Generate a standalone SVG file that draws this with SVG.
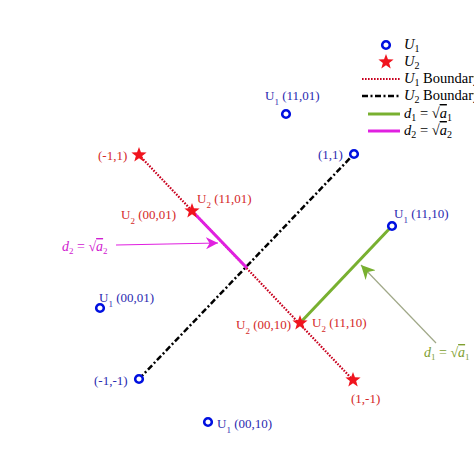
<svg xmlns="http://www.w3.org/2000/svg" width="474" height="474" viewBox="0 0 474 474">
<defs>
<path id="star" d="M0,-8 L1.94,-2.67 L7.61,-2.47 L3.14,1.02 L4.70,6.47 L0,3.3 L-4.70,6.47 L-3.14,1.02 L-7.61,-2.47 L-1.94,-2.67 Z" fill="#f0141e"/>
<circle id="dot" r="3.8" fill="#fff" stroke="#0010e0" stroke-width="2.6"/>
<marker id="amag" viewBox="0 0 10 10" refX="10" refY="5" markerWidth="12" markerHeight="12" markerUnits="userSpaceOnUse" orient="auto"><path d="M0,0 L10,5 L0,10 L3,5 Z" fill="#e020e0"/></marker>
<marker id="agrn" viewBox="0 0 10 10" refX="10" refY="5" markerWidth="14" markerHeight="14" markerUnits="userSpaceOnUse" orient="auto"><path d="M0,0 L10,5 L0,10 L3,5 Z" fill="#78b030"/></marker>
</defs>
<style>
text{font-family:"Liberation Serif","DejaVu Serif",serif;font-size:13px}
.b{fill:#2a2ab0}
.r{fill:#d42828}
.k{fill:#000;font-size:14.5px}
.m{font-size:14px}
.sub{font-size:9px}
.k .sub{font-size:10px}
.it{font-style:italic}
</style>
<rect width="474" height="474" fill="#fff"/>
<g id="connectors">
<line x1="139" y1="155" x2="353" y2="380" stroke="#c8001e" stroke-width="2.2" stroke-dasharray="1.6 1.4"/>
<line x1="139" y1="379" x2="354" y2="154" stroke="#000" stroke-width="2.5" stroke-dasharray="6 2.5 2 2.5"/>
<line x1="192" y1="211" x2="247" y2="268" stroke="#e020e0" stroke-width="3"/>
<line x1="300" y1="323" x2="392" y2="226" stroke="#78b030" stroke-width="3"/>
<line x1="116" y1="245" x2="218" y2="243" stroke="#e020e0" stroke-width="1.2" marker-end="url(#amag)"/>
<line x1="436" y1="343" x2="361" y2="265" stroke="#a0a888" stroke-width="1.2"/>
<line x1="372" y1="276.5" x2="361" y2="265" stroke="#a0a888" stroke-width="0.1" marker-end="url(#agrn)"/>
</g>
<g id="n_m1p1"><use href="#star" x="139" y="155"/><text x="98" y="160" class="r">(-1,1)</text></g>
<g id="n_u2_a"><use href="#star" x="192" y="211"/>
<text x="197" y="203" class="r">U<tspan class="sub" dy="5">2</tspan><tspan dy="-5"> (11,01)</tspan></text>
<text x="121" y="219" class="r">U<tspan class="sub" dy="5">2</tspan><tspan dy="-5"> (00,01)</tspan></text></g>
<g id="n_u2_b"><use href="#star" x="300" y="323"/>
<text x="236" y="329" class="r">U<tspan class="sub" dy="5">2</tspan><tspan dy="-5"> (00,10)</tspan></text>
<text x="312" y="327" class="r">U<tspan class="sub" dy="5">2</tspan><tspan dy="-5"> (11,10)</tspan></text></g>
<g id="n_p1m1"><use href="#star" x="353" y="380"/><text x="351" y="403" class="r">(1,-1)</text></g>
<g id="n_p1p1"><use href="#dot" x="354" y="154"/><text x="318" y="159" class="b">(1,1)</text></g>
<g id="n_m1m1"><use href="#dot" x="139" y="379"/><text x="94" y="385" class="b">(-1,-1)</text></g>
<g id="n_u1_1101"><use href="#dot" x="286" y="114"/><text x="265" y="100" class="b">U<tspan class="sub" dy="5">1</tspan><tspan dy="-5"> (11,01)</tspan></text></g>
<g id="n_u1_0001"><use href="#dot" x="100" y="308"/><text x="99" y="302" class="b">U<tspan class="sub" dy="5">1</tspan><tspan dy="-5"> (00,01)</tspan></text></g>
<g id="n_u1_1110"><use href="#dot" x="392" y="226"/><text x="394" y="218" class="b">U<tspan class="sub" dy="5">1</tspan><tspan dy="-5"> (11,10)</tspan></text></g>
<g id="n_u1_0010"><use href="#dot" x="208" y="422"/><text x="217" y="428" class="b">U<tspan class="sub" dy="5">1</tspan><tspan dy="-5"> (00,10)</tspan></text></g>
<g id="lbl_d2"><text x="62" y="251" class="m" style="fill:#d020d0"><tspan class="it">d</tspan><tspan class="sub" dy="3">2</tspan><tspan dy="-3"> = √</tspan><tspan class="it" text-decoration="overline">a</tspan><tspan class="sub" dy="3">2</tspan></text></g>
<g id="lbl_d1"><text x="424" y="357" class="m" style="fill:#80a030"><tspan class="it">d</tspan><tspan class="sub" dy="3">1</tspan><tspan dy="-3"> = √</tspan><tspan class="it" text-decoration="overline">a</tspan><tspan class="sub" dy="3">1</tspan></text></g>
<g id="legend">
<use href="#dot" x="386" y="45"/>
<text x="404" y="49" class="k"><tspan class="it">U</tspan><tspan class="sub" dy="3">1</tspan></text>
<use href="#star" x="386" y="62"/>
<text x="404" y="66" class="k"><tspan class="it">U</tspan><tspan class="sub" dy="3">2</tspan></text>
<line x1="362" y1="79" x2="400" y2="79" stroke="#c8001e" stroke-width="2.2" stroke-dasharray="1.6 1.4"/>
<text x="404" y="83" class="k"><tspan class="it">U</tspan><tspan class="sub" dy="3">1</tspan><tspan dy="-3"> Boundary</tspan></text>
<line x1="362" y1="96" x2="400" y2="96" stroke="#000" stroke-width="2.5" stroke-dasharray="6 2.5 2 2.5"/>
<text x="404" y="100" class="k"><tspan class="it">U</tspan><tspan class="sub" dy="3">2</tspan><tspan dy="-3"> Boundary</tspan></text>
<line x1="368" y1="114" x2="400" y2="114" stroke="#78b030" stroke-width="3"/>
<text x="404" y="118" class="k"><tspan class="it">d</tspan><tspan class="sub" dy="3">1</tspan><tspan dy="-3"> = √</tspan><tspan class="it" text-decoration="overline">a</tspan><tspan class="sub" dy="3">1</tspan></text>
<line x1="368" y1="131" x2="400" y2="131" stroke="#e020e0" stroke-width="3"/>
<text x="404" y="135" class="k"><tspan class="it">d</tspan><tspan class="sub" dy="3">2</tspan><tspan dy="-3"> = √</tspan><tspan class="it" text-decoration="overline">a</tspan><tspan class="sub" dy="3">2</tspan></text>
</g>
</svg>
